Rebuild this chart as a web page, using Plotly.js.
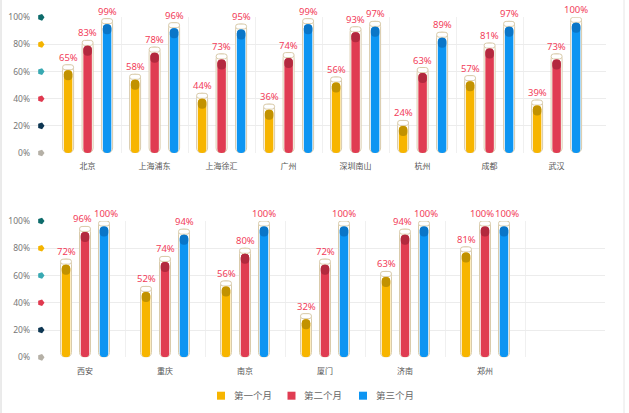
<!DOCTYPE html>
<html><head><meta charset="utf-8">
<script src="https://cdn.plot.ly/plotly-3.0.1.min.js"></script>
<style>html,body{margin:0;padding:0;background:#fff}#chart{width:629px;height:413px}</style>
</head><body><div id="chart"></div>
<script>
// ---- data ----
const topCities = ['北京','上海浦东','上海徐汇','广州','深圳南山','杭州','成都','武汉'];
const topMonth1 = [65,58,44,36,56,24,57,39];
const topMonth2 = [83,78,73,74,93,63,81,73];
const topMonth3 = [99,96,95,99,97,89,97,100];
const bottomCities = ['西安','重庆','南京','厦门','济南','郑州'];
const bottomMonth1 = [72,52,56,32,63,81];
const bottomMonth2 = [96,74,80,72,94,100];
const bottomMonth3 = [100,94,100,100,100,100];
const seriesNames = ['第一个月','第二个月','第三个月'];
const yTickValues = [0,20,40,60,80,100];

// ---- styles ----
const fillColors = ['#f7b500','#e03c52','#0d95f2'];
const capColors = ['#c29200','#b3293e','#0a76c8'];
const tickMarkColors = ['#b5b0a6','#0d3652','#e0394f','#38a9b2','#f4b400','#0d6b6b'];
const tubeLine = '#d9cbab';
const labelColor = '#f23d5a';
const W = 629, H = 413;
const FONT = 'Noto Sans, Noto Sans CJK SC, sans-serif';
const LABEL_SIZE = 9.5;

const panels = [
  {cats: topCities, vals: [topMonth1, topMonth2, topMonth3], xa: 'x', ya: 'y', xm: 'x3',
   xDomPx: [45, 606], yPx0: 153, yPx100: 17.3, unitPx: 67, center0: 87.6, offPx: [-19.5, 0, 19.5], labelStandoff: 7},
  {cats: bottomCities, vals: [bottomMonth1, bottomMonth2, bottomMonth3], xa: 'x2', ya: 'y2', xm: 'x4',
   xDomPx: [45, 605], yPx0: 357.3, yPx100: 221, unitPx: 80, center0: 85, offPx: [-19, 0, 19], labelStandoff: 8}
];

const traces = [];
const scatterTraces = [];
const layout = {
  width: W, height: H, margin: {l: 0, r: 0, t: 0, b: 0},
  paper_bgcolor: '#fff', plot_bgcolor: '#fff',
  barmode: 'overlay', showlegend: false, hovermode: false,
  font: {family: FONT},
  shapes: [], annotations: []
};

function bar(p, x, base, len, wPx, color, lineColor, radius) {
  return {type: 'bar', xaxis: p.xa, yaxis: p.ya, x: x, base: base, y: len,
    width: wPx / p.unitPx, cliponaxis: false,
    marker: {color: color, line: {color: lineColor || 'rgba(0,0,0,0)', width: lineColor ? 1 : 0}, cornerradius: radius},
    hoverinfo: 'skip', showlegend: false};
}
// rough text width estimate for label overlap avoidance
function textWidth(str) {
  let w = 0;
  for (const ch of str) w += (ch === '%' ? 0.86 : 0.57) * LABEL_SIZE;
  return w;
}

panels.forEach((p, pi) => {
  const yPer = (p.yPx0 - p.yPx100) / 100;
  const n = p.cats.length;
  const idx = p.cats.map((c, i) => i);
  const tubeW = 11, fillW = 8.5;
  const lidLen = 5 / yPer, inset = 5.5 / yPer, capLen = 10 / yPer;
  p.vals.forEach((v, s) => {
    const x = idx.map(i => i + p.offPx[s] / p.unitPx);
    const zeros = v.map(() => 0);
    // glass tube + lid
    traces.push(bar(p, x, zeros, v, tubeW, '#ffffff', tubeLine, 5));
    traces.push(bar(p, x, v.map(val => val - lidLen), v.map(() => lidLen), tubeW, '#ffffff', tubeLine, 4));
    // liquid + darker cap
    const ftop = v.map(val => val - inset);
    traces.push(bar(p, x, zeros, ftop, fillW, fillColors[s], null, 4));
    traces.push(bar(p, x, ftop.map(t => t - capLen), v.map(() => capLen), fillW, capColors[s], null, 4));
  });
  // value labels with simple collision avoidance
  idx.forEach(i => {
    const labs = p.vals.map((v, s) => ({s: s, v: v[i], text: v[i] + '%', cx: p.offPx[s], w: textWidth(v[i] + '%'), shift: 0}));
    for (let it = 0; it < 20; it++) {
      for (let k = 0; k < labs.length - 1; k++) {
        const a = labs[k], b = labs[k + 1];
        if (Math.abs(a.v - b.v) * yPer > 12) continue;
        const need = (a.w + b.w) / 2 + 1.5;
        const have = (b.cx + b.shift) - (a.cx + a.shift);
        if (have < need) { const d = (need - have) / 2; a.shift -= d; b.shift += d; }
      }
    }
    labs.forEach(l => {
      layout.annotations.push({xref: p.xa, yref: p.ya, x: i + p.offPx[l.s] / p.unitPx, y: l.v,
        xanchor: 'center', yanchor: 'bottom', xshift: l.shift, yshift: 0, showarrow: false,
        text: l.text, font: {size: LABEL_SIZE, color: labelColor, family: FONT}, borderpad: 0});
    });
  });
  // y-axis tag markers (on a helper overlay axis)
  scatterTraces.push({type: 'scatter', mode: 'markers', xaxis: p.xm, yaxis: p.ya,
    x: yTickValues.map(() => 0.5), y: yTickValues, cliponaxis: false,
    marker: {symbol: 'pentagon', angle: 90, size: 7, color: tickMarkColors},
    hoverinfo: 'skip', showlegend: false});

  const xr = [(p.xDomPx[0] - p.center0) / p.unitPx, (p.xDomPx[1] - p.center0) / p.unitPx];
  const boundaries = [];
  for (let i = 0; i < n; i++) if (i + 0.5 < xr[1] - 0.3) boundaries.push(i + 0.5);
  const xKey = pi === 0 ? 'xaxis' : 'xaxis2';
  const yKey = pi === 0 ? 'yaxis' : 'yaxis2';
  const xmKey = pi === 0 ? 'xaxis3' : 'xaxis4';
  layout[xKey] = {domain: [p.xDomPx[0] / W, p.xDomPx[1] / W], range: xr, anchor: p.ya,
    tickmode: 'array', tickvals: idx, ticktext: p.cats, showgrid: false, zeroline: false,
    showline: false, ticks: '', ticklabelstandoff: p.labelStandoff, fixedrange: true,
    tickfont: {size: 8, color: '#555', family: FONT},
    minor: {tickmode: 'array', tickvals: boundaries, showgrid: true, gridcolor: '#f0f0f0', gridwidth: 1, ticks: ''}};
  layout[xmKey] = {domain: [30 / W, 52 / W], range: [0, 1], anchor: p.ya, visible: false, fixedrange: true};
  layout[yKey] = {domain: [(H - p.yPx0) / H, (H - p.yPx100) / H], range: [0, 100], anchor: p.xa,
    tickmode: 'array', tickvals: yTickValues, ticktext: yTickValues.map(t => t + '%'),
    showgrid: true, gridcolor: '#ececec',
    zeroline: false, showline: false, ticks: '', ticklabelstandoff: 14, fixedrange: true,
    tickfont: {size: 8.5, color: '#777', family: FONT}};
});

// custom legend
const legendCentersPx = [221, 291.5, 363];
const legendY = (H - 395.7) / H;
seriesNames.forEach((name, s) => {
  const cx = legendCentersPx[s];
  layout.shapes.push({type: 'rect', xref: 'paper', yref: 'paper',
    x0: (cx - 4) / W, x1: (cx + 4) / W, y0: legendY - 4 / H, y1: legendY + 4 / H,
    fillcolor: fillColors[s], line: {width: 0}});
  layout.annotations.push({xref: 'paper', yref: 'paper', x: (cx + 10.5) / W, y: legendY,
    xanchor: 'left', yanchor: 'middle', showarrow: false, text: name,
    font: {size: 9.5, color: '#666', family: FONT}});
});
// frame lines
layout.shapes.push({type: 'line', xref: 'paper', yref: 'paper', x0: 1 / W, x1: 1 / W, y0: 0, y1: 1, line: {color: '#d6d6d6', width: 1}});
layout.shapes.push({type: 'line', xref: 'paper', yref: 'paper', x0: 624 / W, x1: 624 / W, y0: 0, y1: 1, line: {color: '#e6e6e6', width: 1}});

Plotly.newPlot('chart', traces.concat(scatterTraces), layout, {displayModeBar: false, staticPlot: true});
</script>
</body></html>
